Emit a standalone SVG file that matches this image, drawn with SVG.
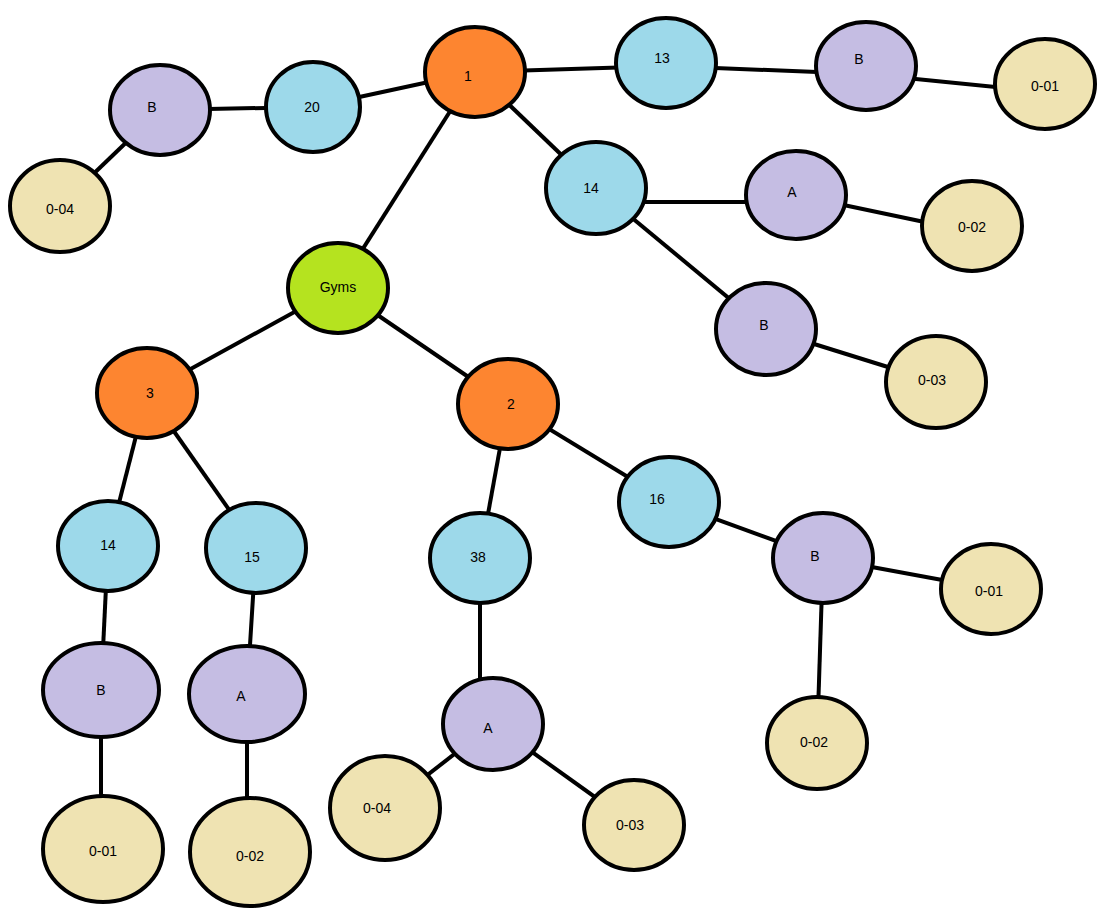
<svg xmlns="http://www.w3.org/2000/svg" width="1116" height="923" viewBox="0 0 1116 923">
<style>
ellipse{stroke:#000;stroke-width:4}
.o{fill:#fd8530}.g{fill:#b5e31f}.b{fill:#9dd9ea}.p{fill:#c5bde3}.y{fill:#efe3b2}
text{font-family:"Liberation Sans",Arial,sans-serif;font-size:14px;text-anchor:middle;dominant-baseline:central;fill:#000}
#edges line{stroke:#000;stroke-width:4}
</style>
<rect width="1116" height="923" fill="#fff"/>
<g id="edges">
<line x1="338" y1="288" x2="475" y2="72"/>
<line x1="475" y1="72" x2="313" y2="107"/>
<line x1="313" y1="107" x2="160" y2="110"/>
<line x1="160" y1="110" x2="60" y2="206"/>
<line x1="475" y1="72" x2="666" y2="66"/>
<line x1="666" y1="66" x2="866" y2="74"/>
<line x1="866" y1="74" x2="1045" y2="92"/>
<line x1="475" y1="72" x2="596" y2="188"/>
<line x1="596" y1="202" x2="796" y2="202"/>
<line x1="796" y1="195" x2="972" y2="232"/>
<line x1="596" y1="188" x2="766" y2="329"/>
<line x1="766" y1="329" x2="936" y2="382"/>
<line x1="338" y1="288" x2="147" y2="393"/>
<line x1="338" y1="288" x2="508" y2="404"/>
<line x1="147" y1="393" x2="108" y2="546"/>
<line x1="147" y1="393" x2="256" y2="548"/>
<line x1="508" y1="404" x2="480" y2="558"/>
<line x1="508" y1="404" x2="669" y2="502"/>
<line x1="669" y1="502" x2="823" y2="558"/>
<line x1="823" y1="558" x2="991" y2="589"/>
<line x1="823" y1="558" x2="817" y2="743"/>
<line x1="108" y1="546" x2="101" y2="690"/>
<line x1="256" y1="548" x2="247" y2="694"/>
<line x1="480" y1="558" x2="480" y2="724"/>
<line x1="493" y1="724" x2="385" y2="808"/>
<line x1="493" y1="724" x2="634" y2="825"/>
<line x1="101" y1="690" x2="101" y2="849"/>
<line x1="247" y1="694" x2="247" y2="852"/>
</g>
<g id="n-gyms"><ellipse class="g" cx="338" cy="288" rx="50" ry="45"/><text x="338" y="287">Gyms</text></g>
<g id="n-1"><ellipse class="o" cx="475" cy="72" rx="50" ry="45"/><text x="468" y="76">1</text></g>
<g id="n-20"><ellipse class="b" cx="313" cy="107" rx="47" ry="45"/><text x="312" y="107">20</text></g>
<g id="n-b1"><ellipse class="p" cx="160" cy="110" rx="50" ry="45"/><text x="152" y="107">B</text></g>
<g id="n-004a"><ellipse class="y" cx="60" cy="206" rx="50" ry="46"/><text x="60" y="209">0-04</text></g>
<g id="n-13"><ellipse class="b" cx="666" cy="63" rx="50" ry="45"/><text x="662" y="58">13</text></g>
<g id="n-b2"><ellipse class="p" cx="866" cy="66" rx="50" ry="44"/><text x="859" y="59">B</text></g>
<g id="n-001a"><ellipse class="y" cx="1045" cy="84" rx="50" ry="45"/><text x="1045" y="86">0-01</text></g>
<g id="n-14a"><ellipse class="b" cx="596" cy="188" rx="50" ry="46"/><text x="591" y="188">14</text></g>
<g id="n-a1"><ellipse class="p" cx="796" cy="195" rx="50" ry="44"/><text x="792" y="192">A</text></g>
<g id="n-002a"><ellipse class="y" cx="972" cy="226" rx="50" ry="45"/><text x="972" y="227">0-02</text></g>
<g id="n-b3"><ellipse class="p" cx="766" cy="329" rx="50" ry="46"/><text x="764" y="325">B</text></g>
<g id="n-003a"><ellipse class="y" cx="936" cy="382" rx="50" ry="46"/><text x="932" y="380">0-03</text></g>
<g id="n-3"><ellipse class="o" cx="147" cy="393" rx="50" ry="45"/><text x="150" y="393">3</text></g>
<g id="n-2"><ellipse class="o" cx="508" cy="404" rx="50" ry="45"/><text x="511" y="404">2</text></g>
<g id="n-14b"><ellipse class="b" cx="108" cy="546" rx="50" ry="45"/><text x="108" y="545">14</text></g>
<g id="n-15"><ellipse class="b" cx="256" cy="548" rx="50" ry="45"/><text x="252" y="557">15</text></g>
<g id="n-38"><ellipse class="b" cx="480" cy="558" rx="50" ry="45"/><text x="478" y="557">38</text></g>
<g id="n-16"><ellipse class="b" cx="669" cy="502" rx="50" ry="45"/><text x="657" y="499">16</text></g>
<g id="n-b4"><ellipse class="p" cx="823" cy="558" rx="50" ry="45"/><text x="815" y="556">B</text></g>
<g id="n-001b"><ellipse class="y" cx="991" cy="589" rx="50" ry="45"/><text x="989" y="591">0-01</text></g>
<g id="n-002b"><ellipse class="y" cx="817" cy="743" rx="50" ry="46"/><text x="814" y="742">0-02</text></g>
<g id="n-b5"><ellipse class="p" cx="101" cy="690" rx="58" ry="47"/><text x="101" y="690">B</text></g>
<g id="n-a2"><ellipse class="p" cx="247" cy="694" rx="58" ry="48"/><text x="241" y="696">A</text></g>
<g id="n-a3"><ellipse class="p" cx="493" cy="724" rx="50" ry="46"/><text x="488" y="728">A</text></g>
<g id="n-004b"><ellipse class="y" cx="385" cy="808" rx="55" ry="52"/><text x="377" y="808">0-04</text></g>
<g id="n-003b"><ellipse class="y" cx="634" cy="825" rx="50" ry="45"/><text x="630" y="825">0-03</text></g>
<g id="n-001c"><ellipse class="y" cx="103" cy="849" rx="60" ry="53"/><text x="103" y="851">0-01</text></g>
<g id="n-002c"><ellipse class="y" cx="250" cy="852" rx="60" ry="54"/><text x="250" y="856">0-02</text></g>
</svg>
